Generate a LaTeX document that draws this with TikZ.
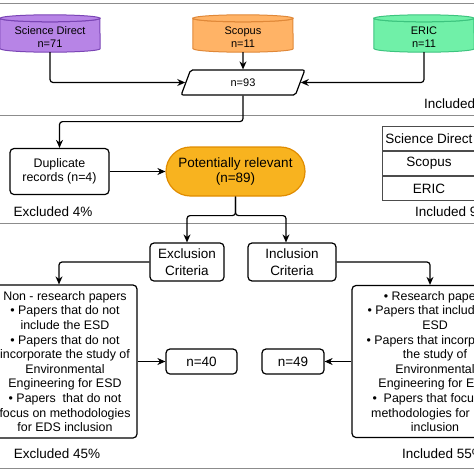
\documentclass[tikz,border=0pt]{standalone}
\usepackage{fontspec}
\setmainfont{Liberation Sans}
\usepackage{xcolor}
\usetikzlibrary{positioning, shapes.geometric, arrows.meta, backgrounds}
\definecolor{sdfill}{HTML}{B784E6}
\definecolor{sddraw}{HTML}{7B45B5}
\definecolor{scfill}{HTML}{FFB366}
\definecolor{scdraw}{HTML}{E08838}
\definecolor{erfill}{HTML}{70F0A8}
\definecolor{erdraw}{HTML}{3DC47F}
\definecolor{potfill}{HTML}{F8B31F}
\definecolor{potdraw}{HTML}{E08C00}
\tikzstyle{database} = [rectangle, minimum width=100pt, minimum height=30pt, align=center, inner sep=0pt, font=\fontsize{11}{13}\selectfont]
\tikzstyle{io} = [trapezium, trapezium left angle=79, trapezium right angle=101, trapezium stretches=true, minimum width=124pt, minimum height=25pt, rounded corners=2pt, draw=black, line width=1.2pt, font=\fontsize{11}{13}\selectfont]
\tikzstyle{process} = [rectangle, rounded corners=4pt, draw=black, line width=1.2pt, align=center, inner sep=0pt]
\tikzstyle{startstop} = [rectangle, rounded corners=24.5pt, minimum width=139pt, minimum height=49pt, fill=potfill, draw=potdraw, line width=1.2pt, align=center, font=\fontsize{13.5}{14.5}\selectfont]
\tikzstyle{tabcell} = [rectangle, draw=black!70, line width=0.9pt, minimum width=94pt, minimum height=24.3pt, inner sep=0pt, font=\fontsize{13.5}{15}\selectfont]
\tikzstyle{share} = [font=\fontsize{13.5}{15}\selectfont, inner sep=0pt]
\tikzstyle{sepline} = [draw=black!45, line width=0.9pt]
\tikzstyle{arrow} = [line width=1.2pt,-{Stealth[length=8pt,width=7pt]}]

\begin{document}
\begin{tikzpicture}[x=1pt,y=-1pt]
		\useasboundingbox (0,0) rectangle (474,474);
		% stage lines
		\draw [sepline] (0,3) -- (474,3);
		\draw [sepline] (0,115) -- (474,115);
		\draw [sepline] (0,223) -- (474,223);
		\draw [sepline] (0,468) -- (474,468);
		% databases
		\node (sd) [database] at (50,37) {Science Direct\\n=71};
		\node (sc) [database] at (243,37) {Scopus\\n=11};
		\node (er) [database] at (424,37) {ERIC\\n=11};
		\begin{scope}[on background layer]
			\foreach \db/\fc/\dc in {sd/sdfill/sddraw, sc/scfill/scdraw, er/erfill/erdraw} {
				\draw [fill=\fc, draw=\dc, line width=1pt] ([yshift=3.5pt]\db.south west) -- ([yshift=3.5pt]\db.north west) arc (180:0:50 and 3.5) -- ([yshift=3.5pt]\db.south east) arc (0:180:50 and 3.5) -- cycle;
				\draw [fill=\fc, draw=\dc, line width=1pt] ([yshift=3.5pt]\db.north) ellipse (50 and 3.5);
			}
		\end{scope}
		\node (tot) [io] at (243,82.5) {n=93};
		\node (inc1) [share, anchor=west] at (424,104) {Included};
		% duplicates
		\node (dup) [process, minimum width=99pt, minimum height=46pt, font=\fontsize{12.4}{14}\selectfont] at (59.5,171.5) {Duplicate\\records (n=4)};
		\node (pot) [startstop] at (235.5,171.5) {Potentially relevant\\(n=89)};
		\node (exc1) [share] at (53,212) {Excluded 4\%};
		\node (tsd) [tabcell] at (429,138.2) {Science Direct};
		\node (tsc) [tabcell, below=0pt of tsd] {Scopus};
		\node (ter) [tabcell, below=0pt of tsc] {ERIC};
		\node (inc2) [share, anchor=west] at (415,212) {Included 96\%};
		% criteria
		\node (excl) [process, minimum width=74pt, minimum height=38pt, font=\fontsize{13.5}{16.5}\selectfont] at (187,262) {Exclusion\\Criteria};
		\node (incl) [process, minimum width=88pt, minimum height=38pt, font=\fontsize{13.5}{16.5}\selectfont] at (292,262) {Inclusion\\Criteria};
		\node (exlist) [process, minimum width=144pt, minimum height=153pt, font=\fontsize{12.4}{14.6}\selectfont] at (65,361.5) {Non - research papers\\
			• Papers that do not\\include the ESD\\
			• Papers that do not\\incorporate the study of\\Environmental\\Engineering for ESD\\
			• Papers \ that do not\\focus on methodologies\\for EDS inclusion};
		\node (inlist) [process, minimum width=166pt, minimum height=152pt, font=\fontsize{12.4}{14.6}\selectfont] at (435,361.5) {• Research papers\\
			• Papers that include the\\ESD\\
			• Papers that incorporate\\the study of\\Environmental\\Engineering for ESD\\
			• \ Papers that focus on\\methodologies for EDS\\inclusion};
		\node (n40) [process, minimum width=71pt, minimum height=25pt, font=\fontsize{13.5}{15}\selectfont] at (201.5,361.5) {n=40};
		\node (n49) [process, minimum width=62pt, minimum height=25pt, font=\fontsize{13.5}{15}\selectfont] at (293,361.5) {n=49};
		\node (exc2) [share] at (57,454) {Excluded 45\%};
		\node (inc3) [share, anchor=west] at (402,454) {Included 55\%};
		\draw [arrow, rounded corners=3pt](sd.south) |- (tot);
		\draw [arrow](sc.south) -- (tot.north);
		\draw [arrow, rounded corners=3pt](er.south) |- (tot);
		\draw [arrow, rounded corners=3pt](tot.south) -- ++(0,26) -| (dup.north);
		\draw [arrow](dup.east) -- (pot.west);
		\draw [arrow, rounded corners=3pt](pot.south) -- ++(0,19) -| (excl.north);
		\draw [arrow, rounded corners=3pt](pot.south) -- ++(0,19) -| ([xshift=-6pt]incl.north);
		\draw [arrow, rounded corners=3pt](excl.west) -| ([xshift=-6pt]exlist.north);
		\draw [arrow, rounded corners=3pt](incl.east) -| ([xshift=-5pt]inlist.north);
		\draw [arrow](exlist.east) -- (n40.west);
		\draw [arrow](inlist.west) -- (n49.east);
		
	\end{tikzpicture}
\end{document}
